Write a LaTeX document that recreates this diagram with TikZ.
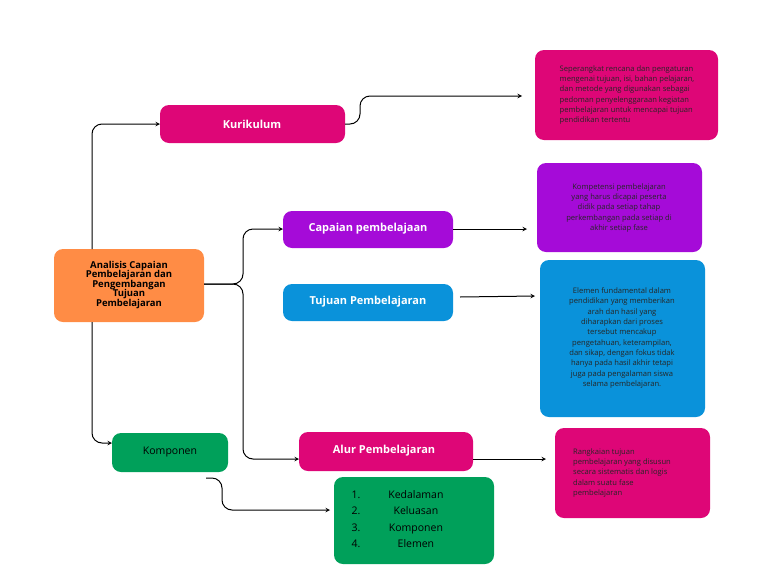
\documentclass[tikz,border=0pt]{standalone}
\usepackage{fontspec}
\setmainfont{Open Sans}
\begin{document}
\begin{tikzpicture}[x=1pt,y=-1pt,
  box/.style={rounded corners=9pt,draw=none,inner sep=0pt},
  lbl/.style={font=\bfseries\fontsize{11}{12}\selectfont,text=white},
  desc/.style={font=\fontsize{7.6}{10.3}\selectfont,text=black!85,align=center},
  con/.style={line width=1pt,rounded corners=10pt,-stealth}]
\useasboundingbox (0,0) rectangle (768,576);
\definecolor{mag}{HTML}{DE0677}
\definecolor{pur}{HTML}{A50BD8}
\definecolor{blu}{HTML}{0A92DA}
\definecolor{ora}{HTML}{FF8C45}
\definecolor{grn}{HTML}{00A05A}
% boxes
\fill[box,mag] (160,105) rectangle (345,143);
\node[lbl] (kur) at (252,124) {Kurikulum};
\fill[box,mag] (535,50) rectangle (718,140);
\node[desc,align=left] (d1) at (627,95) {Seperangkat rencana dan pengaturan\\mengenai tujuan, isi, bahan pelajaran,\\dan metode yang digunakan sebagai\\pedoman penyelenggaraan kegiatan\\pembelajaran untuk mencapai tujuan\\pendidikan tertentu};
\fill[box,pur] (283,211) rectangle (453,248);
\node[lbl] (cap) at (368,229) {Capaian pembelajaan};
\fill[box,pur] (537,163) rectangle (702,252);
\node[desc] (d2) at (619,208) {Kompetensi pembelajaran\\yang harus dicapai peserta\\didik pada setiap tahap\\perkembangan pada setiap di\\akhir setiap fase};
\fill[box,blu] (283,284) rectangle (453,321);
\node[lbl] (tuj) at (368,302) {Tujuan Pembelajaran};
\fill[box,blu] (540,260) rectangle (705,417);
\node[desc] (d3) at (622,338) {Elemen fundamental dalam\\pendidikan yang memberikan\\arah dan hasil yang\\diharapkan dari proses\\tersebut mencakup\\pengetahuan, keterampilan,\\dan sikap, dengan fokus tidak\\hanya pada hasil akhir tetapi\\juga pada pengalaman siswa\\selama pembelajaran.};
\fill[box,mag] (299,432) rectangle (473,471);
\node[lbl] (alur) at (384,451) {Alur Pembelajaran};
\fill[box,mag] (555,428) rectangle (710,518);
\node[desc,align=left] (d4) at (622,473) {Rangkaian tujuan\\pembelajaran yang disusun\\secara sistematis dan logis\\dalam suatu fase\\pembelajaran};
\fill[box,ora] (54,249) rectangle (204,322);
\node[font=\bfseries\fontsize{9.5}{9.5}\selectfont,align=center] (ana) at (129,285) {Analisis Capaian\\Pembelajaran dan\\Pengembangan\\Tujuan\\Pembelajaran};
\fill[box,grn] (112,433) rectangle (228,472);
\node[font=\fontsize{10.5}{12}\selectfont] (kom) at (170,452) {Komponen};
\fill[box,grn] (334,477) rectangle (494,564);
\node[font=\fontsize{10.5}{19.5}\selectfont,anchor=north west] (list) at (348,481)
 {\begin{tabular}{@{}l@{\hspace{28pt}}c@{}}1.&Kedalaman\\[-3pt]2.&Keluasan\\[-3pt]3.&Komponen\\[-3pt]4.&Elemen\end{tabular}};
% coordinates
\coordinate (aT) at (92,249);
\coordinate (aB) at (92,322);
\coordinate (aR) at (204,284);
\coordinate (kurL) at (160,124);
\coordinate (kurR) at (345,124);
\coordinate (capL) at (283,229);
\coordinate (capR) at (453,229);
\coordinate (tujR) at (460,297);
\coordinate (alurL) at (299,459);
\coordinate (alurR) at (473,459);
\coordinate (komL) at (112,443);
\coordinate (komB) at (220,478);
\coordinate (d1L) at (522,96);
\coordinate (d2L) at (527,229);
\coordinate (d3L) at (535,296);
\coordinate (d4L) at (546,459);
\coordinate (lstL) at (330,510);
% connectors
\draw[con] (aT) |- (kurL);
\draw[con] (aB) |- (komL);
\draw[con] (aR) -| (243,229) -- (capL);
\draw[con] (aR) -| (243,459) -- (alurL);
\draw[con] (kurR) -| (360,96) -- (d1L);
\draw[con] (capR) -- (d2L);
\draw[con] (tujR) -- (d3L);
\draw[con] (alurR) -- (d4L);
\draw[con] (206,478) -| (222,510) -- (lstL);
\end{tikzpicture}
\end{document}
